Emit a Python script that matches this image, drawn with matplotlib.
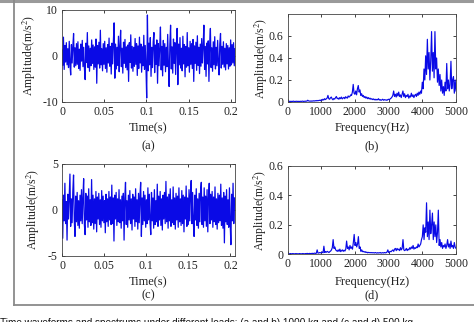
import numpy as np
import matplotlib.pyplot as plt
from matplotlib.lines import Line2D
from matplotlib.ticker import FormatStrFormatter

plt.rcParams['font.family'] = ['Liberation Serif', 'DejaVu Serif']
plt.rcParams['mathtext.fontset'] = 'stix'
plt.rcParams['axes.unicode_minus'] = False

# time waveform, load 1000 kg (m/s^2)
acc_a = [1.2, -2.1, 4.0, -3.0, 2.2, -1.4, 2.8, -2.0, 1.5, -2.6, 3.1, -1.8, -4.2, 2.4, -1.6, 2.0, 4.8, -2.5, 1.7, -2.2,
         2.6, -1.9, 3.0, -2.8, 1.4, -3.2, 2.5, -1.2, 3.3, -2.4, 1.8, -2.9, -5.2, 2.7, -1.5, 5.0, -2.6, 2.1, -3.4, 1.6,
         -2.2, 3.4, -1.7, 2.3, -3.0, 1.9, -2.5, 3.6, -6.0, 2.2, -1.8, 2.9, -2.7, 5.5, -2.0, 1.5, -3.3, 2.6, -1.9, 3.1,
         -2.8, 1.7, -3.6, 2.4, -1.6, 3.8, -2.3, 2.0, -4.0, 2.7, -1.8, 3.2, 7.1, -4.9, 2.5, -2.9, 1.8, -2.1, 4.2, -3.5,
         2.0, 5.5, -2.4, 1.6, -3.8, 2.9, -1.7, 3.5, -2.6, 1.9, -3.1, 2.3, -5.6, 2.8, -1.5, 4.5, -2.7, 2.0, -3.4, 1.8,
         -2.3, 3.7, -1.9, 2.6, -4.3, 2.1, -2.8, 4.0, -1.6, 2.5, -3.6, 1.9, -2.2, 4.4, -3.0, 2.2, -2.5, -9.2, 8.8, -3.3,
         2.7, -2.0, 3.9, -4.5, 1.8, -2.6, 3.0, 5.0, -3.7, 2.3, -1.9, 3.4, -6.0, 2.6, -2.2, 1.7, 6.2, -3.1, 2.0, -4.4,
         3.3, -2.1, 2.6, -3.5, 1.8, -2.4, 4.6, -2.0, -6.7, 2.4, 6.6, -2.9, 1.9, -3.8, 3.6, -1.7, 2.8, -4.1, 2.2, 5.9,
         -6.3, 2.5, -2.0, 3.9, -2.7, 1.6, -3.3, 4.2, -1.8, 2.4, -4.6, 2.0, -2.5, 5.0, -2.2, 1.7, -3.6, 3.1, -1.9, 2.6,
         -2.8, 3.5, -5.6, 2.1, -1.7, 2.9, -3.2, 4.3, -2.1, 1.8, -3.9, 2.5, -2.3, 3.7, -1.6, 2.2, 6.6, -3.0, 2.0, -4.5,
         2.7, -1.8, 3.2, -5.6, 2.4, 5.9, -2.6, 1.7, -3.4, 3.0, -2.0, 4.1, -2.9, 1.8, -2.2, 3.3, -1.6, -4.2, 2.5, 4.8,
         -2.7, 2.0, -1.9, 3.0, -2.5, 1.6, -3.1, 2.6, -1.8, 2.2, -2.9, 1.7, -2.3, 3.4, -2.0, 2.4, -1.6, 2.8, -2.2, 1.5]

# time waveform, load 500 kg
acc_c = [1.1, -3.1, 1.6, -1.2, 2.9, -1.5, 0.9, -3.3, 1.7, -1.0, 1.4, 3.9, -1.8, 1.2, -1.4, 2.0, 3.8, -1.1, -2.9, 1.5,
         -1.3, 1.9, -1.7, 1.0, -2.0, 1.6, -1.2, 2.2, -1.5, 1.3, 3.4, -1.6, -2.7, 1.8, -1.1, 1.5, -1.9, 2.3, -1.3, 1.1,
         -1.7, 3.3, -1.4, 1.6, -2.1, 1.2, -1.5, 2.0, -2.4, 1.4, -1.0, 1.8, -1.6, 1.1, -1.9, 2.1, -1.2, 1.5, -1.4, 1.0,
         -2.5, 1.7, -1.3, 1.2, -1.8, 2.0, -1.1, 1.4, -1.6, 2.7, -1.5, 1.3, -3.4, 1.6, -1.0, 1.9, -1.7, 1.2, -1.3, 2.2,
         -1.4, 1.1, -2.0, 1.5, -1.2, 1.8, -3.3, 1.3, 3.0, -1.6, 1.0, -1.9, 1.6, -1.1, 2.1, -1.5, 1.2, -2.2, 1.7, -1.0,
         1.4, -1.8, 2.3, -1.3, 1.1, -2.1, 1.8, -1.4, 1.5, 3.0, -2.9, 1.3, -1.6, 2.0, -1.2, 1.6, -1.9, 1.1, -1.5, 2.4,
         -1.1, 1.7, -1.4, -2.7, 1.9, -1.2, 1.3, -2.0, 2.2, -1.6, 1.0, -1.3, 2.8, -1.8, 1.5, -1.1, 2.0, -1.7, 1.2, -2.2,
         1.6, -1.0, 1.9, -1.5, 3.1, -1.3, 1.4, -2.0, 1.7, -1.2, 2.3, -1.8, 1.1, -1.4, 2.5, -1.6, 1.3, -2.1, 1.8, -1.1,
         1.5, -1.9, 2.4, -1.3, 1.2, -1.7, 2.1, -1.5, 1.6, -2.4, 1.4, -1.0, 2.6, -1.8, 1.3, -1.6, 2.2, -1.2, 1.7, 3.2,
         -1.5, 1.9, -1.4, -2.9, 1.6, -1.1, 2.3, -1.7, 1.2, -2.0, 1.8, -1.3, 2.1, 3.0, -1.6, 1.4, -1.9, 2.4, -1.2, 1.5,
         -1.8, 2.2, -2.4, 1.3, 2.9, -1.5, 1.7, -1.1, 2.0, -1.9, 1.4, -1.3, 2.5, -1.6, 1.2, -2.1, 1.8, -1.4, 1.6, -1.2,
         2.8, -1.7, 1.3, -2.0, 1.9, -3.6, 1.5, -1.3, 2.2, -1.6, 1.1, -1.9, 2.4, -1.4, -3.8, 1.7, -1.2, 2.9, -1.5, 1.3]

# amplitude spectra, 0..5000 Hz every 25 Hz
spec_b = [0.01, 0.006, 0.005, 0.007, 0.004, 0.006, 0.005, 0.008, 0.004, 0.006, 0.005, 0.007,
          0.005, 0.006, 0.004, 0.007, 0.005, 0.006, 0.008, 0.005, 0.007, 0.006, 0.009, 0.007,
          0.016, 0.01, 0.008, 0.009, 0.007, 0.01, 0.008, 0.011, 0.009, 0.012, 0.01, 0.014, 0.011, 0.013, 0.016, 0.012,
          0.02, 0.015, 0.025, 0.018, 0.03, 0.022, 0.028, 0.035, 0.06, 0.03, 0.025, 0.038, 0.045, 0.028, 0.02, 0.032, 0.026, 0.04, 0.05, 0.03,
          0.035, 0.025, 0.04, 0.03, 0.045, 0.028, 0.036, 0.042, 0.03, 0.048, 0.04, 0.035, 0.055, 0.045, 0.05, 0.065, 0.06, 0.09, 0.16, 0.08,
          0.07, 0.1, 0.065, 0.12, 0.15, 0.09, 0.11, 0.06, 0.075, 0.05, 0.06, 0.04, 0.05, 0.035, 0.045, 0.03, 0.04, 0.028, 0.035, 0.025,
          0.03, 0.022, 0.028, 0.02, 0.025, 0.018, 0.024, 0.02, 0.03, 0.018, 0.022, 0.015, 0.02, 0.025, 0.016, 0.022, 0.018, 0.02, 0.015, 0.022,
          0.025, 0.02, 0.03, 0.035, 0.045, 0.06, 0.1, 0.05, 0.07, 0.045, 0.08, 0.055, 0.09, 0.05, 0.065, 0.04, 0.07, 0.1, 0.05, 0.075,
          0.04, 0.06, 0.05, 0.07, 0.035, 0.055, 0.045, 0.08, 0.05, 0.065, 0.04, 0.06, 0.07, 0.05, 0.08, 0.06, 0.09, 0.07, 0.1, 0.08,
          0.18, 0.12, 0.3, 0.2, 0.42, 0.25, 0.57, 0.3, 0.45, 0.2, 0.38, 0.64, 0.28, 0.45, 0.22, 0.64, 0.3, 0.4, 0.18, 0.3,
          0.15, 0.25, 0.1, 0.2, 0.08, 0.14, 0.06, 0.18, 0.1, 0.35, 0.12, 0.2, 0.1, 0.16, 0.37, 0.12, 0.2, 0.23, 0.08, 0.2,
          0.1]

spec_d = [0.006, 0.004, 0.003, 0.005, 0.004, 0.003, 0.005, 0.004, 0.003, 0.004, 0.005, 0.003,
          0.004, 0.003, 0.005, 0.004, 0.003, 0.004, 0.005, 0.004, 0.003, 0.005, 0.004, 0.006,
          0.005, 0.004, 0.006, 0.005, 0.004, 0.007, 0.005, 0.006, 0.008, 0.006, 0.007, 0.03, 0.008, 0.009, 0.012, 0.01,
          0.012, 0.015, 0.01, 0.055, 0.012, 0.018, 0.014, 0.02, 0.016, 0.012, 0.018, 0.022, 0.03, 0.045, 0.1, 0.04, 0.05, 0.03, 0.025, 0.02,
          0.03, 0.02, 0.035, 0.018, 0.025, 0.03, 0.02, 0.028, 0.022, 0.035, 0.09, 0.04, 0.05, 0.03, 0.06, 0.04, 0.05, 0.035, 0.08, 0.135,
          0.06, 0.08, 0.05, 0.07, 0.12, 0.04, 0.05, 0.02, 0.03, 0.018, 0.02, 0.015, 0.018, 0.012, 0.015, 0.01, 0.013, 0.011, 0.012, 0.01,
          0.012, 0.01, 0.011, 0.009, 0.012, 0.01, 0.008, 0.011, 0.009, 0.01, 0.012, 0.008, 0.01, 0.011, 0.009, 0.012, 0.01, 0.011, 0.015, 0.03,
          0.012, 0.015, 0.02, 0.018, 0.025, 0.03, 0.02, 0.035, 0.04, 0.025, 0.04, 0.03, 0.035, 0.025, 0.045, 0.03, 0.04, 0.1, 0.03, 0.025,
          0.03, 0.04, 0.025, 0.035, 0.03, 0.045, 0.035, 0.05, 0.04, 0.06, 0.035, 0.045, 0.04, 0.05, 0.045, 0.07, 0.05, 0.06, 0.07, 0.1,
          0.12, 0.2, 0.1, 0.18, 0.15, 0.35, 0.12, 0.22, 0.1, 0.3, 0.14, 0.2, 0.28, 0.1, 0.22, 0.12, 0.2, 0.08, 0.15, 0.3,
          0.06, 0.1, 0.05, 0.08, 0.04, 0.06, 0.05, 0.07, 0.04, 0.06, 0.1, 0.05, 0.07, 0.04, 0.09, 0.05, 0.06, 0.04, 0.08, 0.05,
          0.04]

t_end = 0.2048
f_end = 5000
time_ticks = [0, 0.05, 0.1, 0.15, 0.2]
freq_ticks = [0, 1000, 2000, 3000, 4000, 5000]
ylabel = 'Amplitude(m/s$^2$)'
caption = 'Time waveforms and spectrums under different loads: (a and b) 1000 kg and (c and d) 500 kg'

W, H = 474, 322
fig = plt.figure(figsize=(W / 100, H / 100), dpi=100)

def box(l, r, t, b):
    # pixel edges -> figure fraction
    return [l / W, 1 - b / H, (r - l) / W, (b - t) / H]

def style(ax):
    ax.tick_params(direction='in', length=2.5, width=0.6, top=True, right=True,
                   labelsize=8.5, pad=3, colors='#222222')
    for s in ax.spines.values():
        s.set_linewidth(0.6)
        s.set_color('#444444')

ax_a = fig.add_axes(box(62, 235, 9.5, 101.7))
ax_b = fig.add_axes(box(287.5, 456, 14, 102))
ax_c = fig.add_axes(box(62, 234.5, 164, 255.7))
ax_d = fig.add_axes(box(287.7, 456, 166, 254.3))

blue = '#0a0ae6'

for ax, y, lim, ticks in [(ax_a, acc_a, 10, [-10, 0, 10]), (ax_c, acc_c, 5, [-5, 0, 5])]:
    t = np.linspace(0, t_end, len(y))
    ax.plot(t, y, color=blue, lw=0.9)
    ax.set_xlim(0, t_end)
    ax.set_ylim(-lim, lim)
    ax.set_xticks(time_ticks)
    ax.set_yticks(ticks)
    ax.xaxis.set_major_formatter(FormatStrFormatter('%g'))
    style(ax)

for ax, y, top in [(ax_b, spec_b, 0.8), (ax_d, spec_d, 0.6)]:
    f = np.linspace(0, f_end, len(y))
    ax.plot(f, y, color=blue, lw=0.85)
    ax.set_xlim(0, f_end)
    ax.set_ylim(0, top)
    ax.set_xticks(freq_ticks)
    ax.set_yticks([0, 0.2, 0.4, 0.6])
    ax.yaxis.set_major_formatter(FormatStrFormatter('%g'))
    style(ax)

# y labels
for ax, xc in [(ax_a, -0.137), (ax_c, -0.115), (ax_b, -0.106), (ax_d, -0.11)]:
    ax.set_ylabel(ylabel, fontsize=8.5, color='#222222')
    ax.yaxis.set_label_coords(xc, 0.5)

# x labels and panel letters
for xc, y1, y2, name, tag in [(148, 128, 146, 'Time(s)', '(a)'), (372, 128, 146, 'Frequency(Hz)', '(b)'),
                              (148, 282, 295, 'Time(s)', '(c)'), (372, 282, 295, 'Frequency(Hz)', '(d)')]:
    fig.text(xc / W, 1 - y1 / H, name, ha='center', va='center', fontsize=9, color='#222222')
    fig.text(xc / W, 1 - y2 / H, tag, ha='center', va='center', fontsize=9, color='#222222')

# grey frame around the figure in the page
fig.add_artist(Line2D([0, 1], [1 - 1.2 / H, 1 - 1.2 / H], transform=fig.transFigure, color='#9a9a9a', lw=2.2))
fig.add_artist(Line2D([13.5 / W, 13.5 / W], [1, 1 - 305 / H], transform=fig.transFigure, color='#8a8a8a', lw=1.3))
fig.add_artist(Line2D([13.5 / W, 1], [1 - 305 / H, 1 - 305 / H], transform=fig.transFigure, color='#8a8a8a', lw=1.3))

# caption, cut off by the bottom edge
fig.text(0.0, 1 - 317.5 / H, caption, ha='left', va='top', fontsize=7.2, family='Liberation Sans', color='#111111')

fig.savefig('out.png', dpi=100)
